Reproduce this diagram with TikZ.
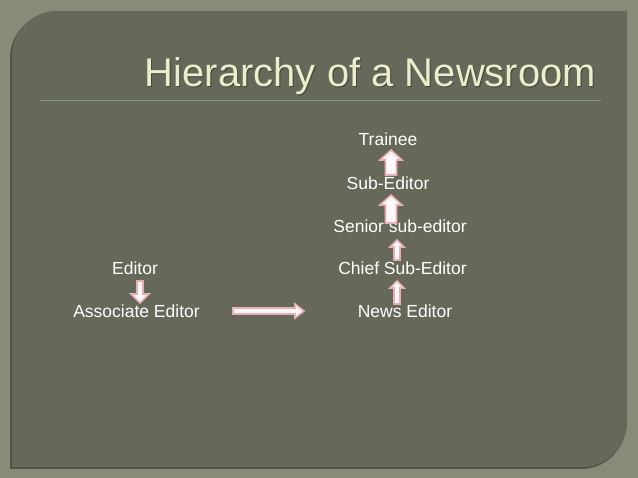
\documentclass[tikz,border=0pt]{standalone}
\usepackage{fontspec}
\setmainfont{Liberation Sans}
\definecolor{outerbg}{HTML}{878B77}
\definecolor{panel}{HTML}{66685A}
\definecolor{panelshadow}{HTML}{505247}
\definecolor{titlecol}{HTML}{ECEDCB}
\definecolor{rulecol}{HTML}{7F9A78}
\definecolor{arrowedge}{HTML}{E8B0B4}
\definecolor{arrowfill}{HTML}{FFF8F8}
\tikzset{
  lbl/.style={anchor=base, text=white, font=\fontsize{17.5}{20}\selectfont, inner sep=0pt},
  blockarrow/.style={draw=arrowedge, fill=arrowfill, line width=1.6pt, line join=miter}
}
\newcommand\uparr[6]{% x, ybottom, ytip, yheadbase, shaft half, head half
  \draw[blockarrow] (#1-#5,#2) -- (#1-#5,#4) -- (#1-#6,#4) -- (#1,#3) -- (#1+#6,#4) -- (#1+#5,#4) -- (#1+#5,#2) -- cycle;}
\begin{document}
\begin{tikzpicture}[x=1pt,y=-1pt]
\useasboundingbox (0,0) rectangle (638,478);
\fill[outerbg] (0,0) rectangle (638,478);
% panel shadow
\fill[panelshadow] (10,58) .. controls (10,33.1) and (30.1,13) .. (55,13) -- (626,13) -- (626,424) .. controls (626,448.9) and (605.9,469) .. (581,469) -- (10,469) -- cycle;
% panel
\fill[panel] (12,56) .. controls (12,31.1) and (32.1,11) .. (57,11) -- (627,11) -- (627,422) .. controls (627,446.9) and (606.9,467) .. (582,467) -- (12,467) -- cycle;
% title
\node[anchor=base, text=black, opacity=0.35, font=\fontsize{40}{44}\selectfont, inner sep=0pt] at (371.5,88) {Hierarchy of a Newsroom};
\node (title) [anchor=base, text=titlecol, font=\fontsize{40}{44}\selectfont, inner sep=0pt] at (370.5,86.5) {Hierarchy of a Newsroom};
\draw[rulecol, line width=0.9pt] (40,100) -- (601,100);
% labels
\node (trainee) [lbl] at (388,146) {Trainee};
\node (sub) [lbl] at (388,190) {Sub-Editor};
\node (senior) [lbl] at (400,233) {Senior sub-editor};
\node (chief) [lbl] at (402.5,275) {Chief Sub-Editor};
\node (news) [lbl] at (405,318) {News Editor};
\node (editor) [lbl] at (135,275) {Editor};
\node (assoc) [lbl] at (136.5,318) {Associate Editor};
% block arrows
\uparr{391}{175}{150}{160}{5.5}{11}
\uparr{391}{223}{195}{205}{5.5}{11}
\uparr{397}{260}{240}{247}{3}{7}
\uparr{397}{304}{281}{288}{3}{7}
\draw[blockarrow] (137,281) -- (137,294) -- (131,294) -- (140,303) -- (149,294) -- (143,294) -- (143,281) -- cycle;
\draw[blockarrow] (233,308) -- (295,308) -- (295,304) -- (304,311) -- (295,318) -- (295,314) -- (233,314) -- cycle;
\end{tikzpicture}
\end{document}
